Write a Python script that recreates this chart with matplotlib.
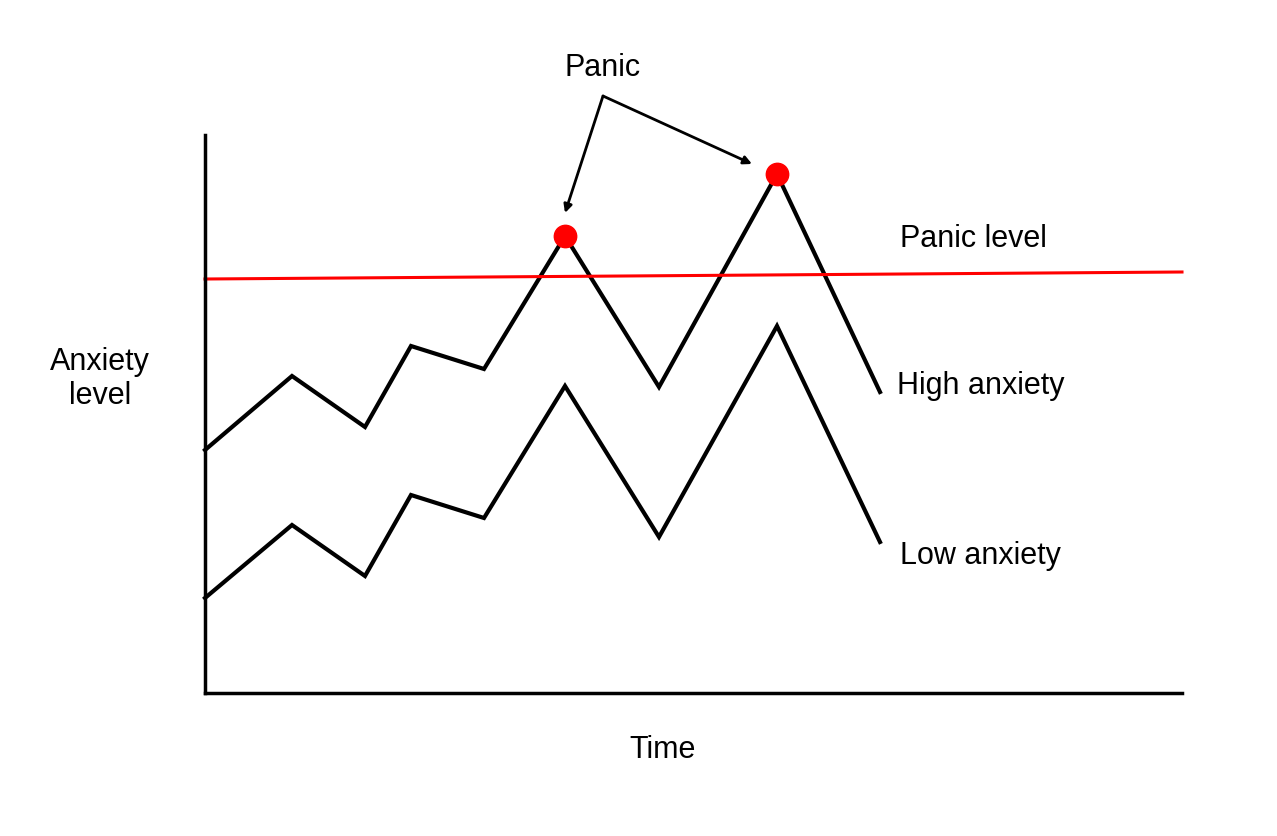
import matplotlib
matplotlib.use("Agg")
import matplotlib.pyplot as plt
plt.rcParams['font.family'] = ['Liberation Sans', 'DejaVu Sans']

# values in axis units (x: time, y: anxiety level)
time = [0, 87, 160, 206, 279, 360, 454, 572, 675]
high_anxiety = [243, 317, 266, 347, 324, 457, 306, 519, 301]
low_anxiety = [95, 168, 117, 198, 175, 307, 156, 367, 151]
panic_x = [0, 977]
panic_y = [414, 421]
panic_idx = [5, 7]

W, H = 1277, 836
fig = plt.figure(figsize=(W/100, H/100), dpi=100)
ax = fig.add_axes([205/W, (H-693)/H, 977/W, 558/H])
ax.set_xlim(0, 977)
ax.set_ylim(0, 558)
for s in ["top", "right"]:
    ax.spines[s].set_visible(False)
for s in ["left", "bottom"]:
    ax.spines[s].set_linewidth(2.5)
ax.set_xticks([]); ax.set_yticks([])

ax.plot(time, high_anxiety, color="black", lw=3, solid_joinstyle="miter", clip_on=False)
ax.plot(time, low_anxiety, color="black", lw=3, solid_joinstyle="miter", clip_on=False)
ax.plot(panic_x, panic_y, color="red", lw=2.2, clip_on=False)
ax.scatter([time[i] for i in panic_idx], [high_anxiety[i] for i in panic_idx],
           s=260, color="red", zorder=5, clip_on=False)

fs = 22
ax.text(695, 454, "Panic level", fontsize=fs, va="center")
ax.text(692, 307, "High anxiety", fontsize=fs, va="center")
ax.text(695, 137, "Low anxiety", fontsize=fs, va="center")
ax.text(398, 625, "Panic", fontsize=fs, ha="center", va="center")
ax.text(-105, 314, "Anxiety\nlevel", fontsize=fs, ha="center", va="center")
ax.text(458, -57, "Time", fontsize=fs, ha="center", va="center")

for tx, ty in [(360, 480), (547, 529)]:
    ax.annotate("", xy=(tx, ty), xytext=(398, 597), annotation_clip=False,
                arrowprops=dict(arrowstyle="-|>", color="black", lw=2,
                                mutation_scale=12, shrinkA=0, shrinkB=0))

fig.savefig("out.png", dpi=100)
